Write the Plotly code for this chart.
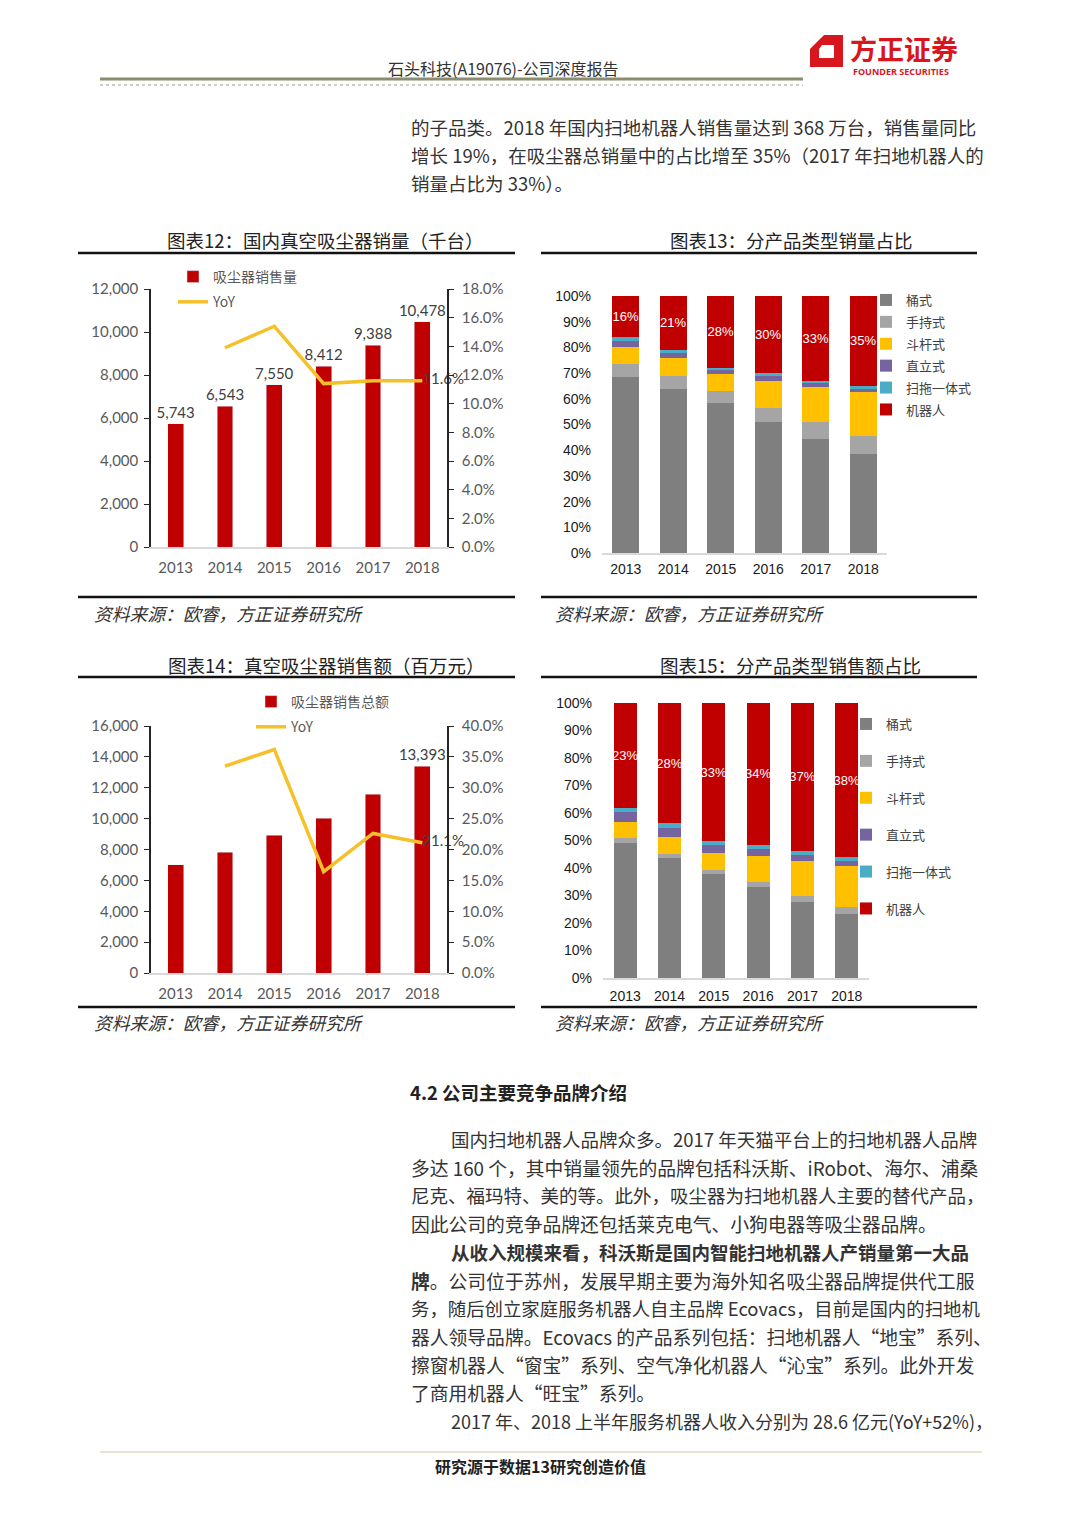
import plotly.graph_objects as go

W, H = 1080, 1527
OFF = 8  # page body margin of the browser


def px(x):
    return (x - OFF) / W


def py(y):
    return 1 - (y - OFF) / H


CJK = "Noto Sans CJK SC"
NUM12 = "Lato"
NUM13 = "Liberation Sans"

# ---------------- data ----------------
years = ["2013", "2014", "2015", "2016", "2017", "2018"]

# Chart 12: domestic vacuum cleaner volume (thousand units)
vol_units = [5743, 6543, 7550, 8412, 9388, 10478]
vol_yoy = [None, 0.139, 0.154, 0.114, 0.116, 0.116]

# Chart 14: vacuum cleaner sales value (million yuan)
val_sales = [7000, 7820, 8920, 10040, 11590, 13393]
val_yoy = [None, 0.335, 0.362, 0.164, 0.226, 0.211]

segment_names = ["桶式", "手持式", "斗杆式", "直立式", "扫拖一体式", "机器人"]
segment_colors = ["#7f7f7f", "#a5a5a5", "#ffc000", "#7664a0", "#4bacc6", "#c00000"]

# Chart 13: share of volume by product type (%)
vol_tong = [68.5, 64.0, 58.4, 51.0, 44.4, 38.4]
vol_shouchi = [5.0, 4.7, 4.6, 5.6, 6.4, 7.1]
vol_dougan = [6.5, 7.0, 6.5, 10.2, 13.7, 17.0]
vol_zhili = [2.5, 2.3, 1.6, 2.1, 1.8, 1.5]
vol_saotuo = [1.5, 1.0, 0.9, 1.1, 0.7, 1.0]
vol_robot = [16.0, 21.0, 28.0, 30.0, 33.0, 35.0]
vol_robot_labels = ["16%", "21%", "28%", "30%", "33%", "35%"]

# Chart 15: share of sales value by product type (%)
val_tong = [49.1, 43.8, 37.9, 33.0, 27.6, 23.3]
val_shouchi = [1.7, 1.4, 1.5, 2.0, 2.3, 2.6]
val_dougan = [6.0, 6.0, 5.9, 9.2, 12.5, 14.8]
val_zhili = [3.7, 3.3, 2.9, 2.8, 2.4, 2.0]
val_saotuo = [1.5, 1.7, 1.6, 1.5, 1.4, 1.3]
val_robot = [38.0, 43.8, 50.2, 51.5, 53.8, 56.0]
val_robot_labels = ["23%", "28%", "33%", "34%", "37%", "38%"]

RED = "#c00000"
GOLD = "#f4c12a"

fig = go.Figure()

# ---------------- chart 12 ----------------
fig.add_trace(go.Bar(
    x=years, y=vol_units, xaxis="x", yaxis="y", name="吸尘器销售量",
    marker_color=RED, width=0.32,
    text=[f"{v:,}" for v in vol_units], textposition="outside", constraintext="none",
    textfont=dict(family=NUM12, size=15, color="#404040"), cliponaxis=False,
    legend="legend", legendgroup="a1",
))
fig.add_trace(go.Scatter(
    x=years, y=vol_yoy, xaxis="x", yaxis="y2", name="YoY", mode="lines+text",
    line=dict(color=GOLD, width=3.5),
    text=[""] * 5 + [f"{vol_yoy[-1]*100:.1f}%"], textposition="middle right",
    textfont=dict(family=NUM12, size=15, color="#404040"), cliponaxis=False,
    legend="legend", legendgroup="a2",
))

# ---------------- chart 14 ----------------
fig.add_trace(go.Bar(
    x=years, y=val_sales, xaxis="x3", yaxis="y4", name="吸尘器销售总额",
    marker_color=RED, width=0.32,
    text=[""] * 5 + [f"{val_sales[-1]:,}"], textposition="outside", constraintext="none",
    textfont=dict(family=NUM12, size=15, color="#404040"), cliponaxis=False,
    legend="legend3", legendgroup="c1",
))
fig.add_trace(go.Scatter(
    x=years, y=val_yoy, xaxis="x3", yaxis="y5", name="YoY", mode="lines+text",
    line=dict(color=GOLD, width=3.5),
    text=[""] * 5 + [f"{val_yoy[-1]*100:.1f}%"], textposition="middle right",
    textfont=dict(family=NUM12, size=15, color="#404040"), cliponaxis=False,
    legend="legend3", legendgroup="c2",
))

# ---------------- chart 13 & 15 ----------------
vol_series = [vol_tong, vol_shouchi, vol_dougan, vol_zhili, vol_saotuo, vol_robot]
val_series = [val_tong, val_shouchi, val_dougan, val_zhili, val_saotuo, val_robot]

for i, (name, color, ys) in enumerate(zip(segment_names, segment_colors, vol_series)):
    is_robot = name == "机器人"
    fig.add_trace(go.Bar(
        x=years, y=ys, xaxis="x2", yaxis="y3", name=name, marker_color=color,
        marker_line_width=0, width=0.56,
        text=vol_robot_labels if is_robot else None,
        textposition="inside" if is_robot else "none", insidetextanchor="middle",
        textangle=0, constraintext="none",
        textfont=dict(family=NUM13, size=13, color="white"),
        legend="legend2", legendgroup=f"b{i}",
    ))

for i, (name, color, ys) in enumerate(zip(segment_names, segment_colors, val_series)):
    is_robot = name == "机器人"
    fig.add_trace(go.Bar(
        x=years, y=ys, xaxis="x4", yaxis="y6", name=name, marker_color=color,
        marker_line_width=0, width=0.52,
        text=val_robot_labels if is_robot else None,
        textposition="inside" if is_robot else "none", insidetextanchor="middle",
        textangle=0, constraintext="none",
        textfont=dict(family=NUM13, size=13, color="white"),
        legend="legend4", legendgroup=f"d{i}",
    ))

tick12 = dict(family=NUM12, size=15, color="#595959")
tick13 = dict(family=NUM13, size=14, color="#1a1a1a")

common_x = dict(type="category", range=[-0.5, 5.5], showgrid=False, ticks="",
                showline=True, linecolor="#d9d9d9", linewidth=1.5, zeroline=False)
left_y = dict(showgrid=False, zeroline=False, showline=True, linecolor="#262626",
              linewidth=1.5, ticks="outside", ticklen=5, tickcolor="#262626",
              tickfont=tick12, ticklabelstandoff=3)
right_y = dict(showgrid=False, zeroline=False, showline=True, linecolor="#262626",
               linewidth=1.5, ticks="outside", ticklen=5, tickcolor="#262626",
               tickfont=tick12, ticklabelstandoff=5, side="right", tickformat=".1%")
share_y = dict(range=[0, 100], dtick=10, ticksuffix="%", showgrid=False, zeroline=False,
               showline=False, tickfont=tick13, ticklabelstandoff=10)


def leg(x, y, size, color, gap):
    return dict(x=px(x), y=py(y), xanchor="left", yanchor="top", bgcolor="rgba(0,0,0,0)",
                font=dict(family=CJK, size=size, color=color), tracegroupgap=gap,
                traceorder="grouped", itemwidth=30)


layout = dict(
    width=W, height=H, margin=dict(l=0, r=0, t=0, b=0, autoexpand=False),
    paper_bgcolor="white", plot_bgcolor="rgba(0,0,0,0)",
    barmode="stack", font=dict(family=CJK, color="#333333"),
    xaxis=dict(domain=[px(151), px(447)], anchor="y", tickfont=tick12,
               ticklabelstandoff=6, **common_x),
    yaxis=dict(domain=[py(547), py(289)], anchor="x", range=[0, 12000], dtick=2000,
               tickformat=",", **left_y),
    yaxis2=dict(overlaying="y", anchor="x", range=[0, 0.18], dtick=0.02, **right_y),
    xaxis2=dict(domain=[px(602), px(887)], anchor="y3", tickfont=tick13,
                ticklabelstandoff=2, **common_x),
    yaxis3=dict(domain=[py(553), py(296)], anchor="x2", **share_y),
    xaxis3=dict(domain=[px(151), px(447)], anchor="y4", tickfont=tick12,
                ticklabelstandoff=6, **common_x),
    yaxis4=dict(domain=[py(973), py(726)], anchor="x3", range=[0, 16000], dtick=2000,
                tickformat=",", **left_y),
    yaxis5=dict(overlaying="y4", anchor="x3", range=[0, 0.40], dtick=0.05, **right_y),
    xaxis4=dict(domain=[px(603), px(869)], anchor="y6", tickfont=tick13,
                ticklabelstandoff=4, **common_x),
    yaxis6=dict(domain=[py(978), py(703)], anchor="x4", **share_y),
    legend=leg(173, 261, 14, "#595959", 4),
    legend2=leg(866, 285, 13, "#404040", 2),
    legend3=leg(251, 686, 14, "#595959", 4),
    legend4=leg(846, 709, 13, "#404040", 17),
)
fig.update_layout(**layout)

# ---------------- page decorations ----------------
shapes = []


def hline(y, x0, x1, color, width, dash="solid"):
    shapes.append(dict(type="line", xref="paper", yref="paper", x0=px(x0), x1=px(x1),
                       y0=py(y), y1=py(y), line=dict(color=color, width=width, dash=dash)))


hline(79, 100, 803, "#8c8c6e", 3)
hline(85, 100, 803, "#9a9a9a", 1, "dot")
for yy in (253, 677, 597, 1007):
    hline(yy, 78, 515, "#111111", 2.5)
    hline(yy, 541, 977, "#111111", 2.5)
hline(1452, 100, 982, "#d9c6a3", 1.2)

# logo mark
outer = [(824, 35), (843, 35), (843, 67), (810, 67), (810, 49)]
inner = [(822, 45), (834, 45), (834, 58), (819, 58), (819, 49)]


def pth(pts):
    return "M " + " L ".join(f"{px(x):.5f},{py(y):.5f}" for x, y in pts) + " Z"


shapes.append(dict(type="path", xref="paper", yref="paper", path=pth(outer) + " " + pth(inner),
                   fillcolor="#d7161e", line=dict(width=0), fillrule="evenodd"))
fig.update_layout(shapes=shapes)

ann = []


def text(x, y, s, size, color="#333333", anchor="left", family=CJK):
    ann.append(dict(x=px(x), y=py(y), xref="paper", yref="paper", text=s, showarrow=False,
                    xanchor=anchor, yanchor="middle",
                    font=dict(family=family, size=size, color=color)))


text(503, 68, "石头科技(A19076)-公司深度报告", 16, "#333333", "center")
text(848, 48, "<b>方正证券</b>", 27, "#d7161e", "left")
text(851, 71, "<b>FOUNDER SECURITIES</b>", 9, "#d7161e", "left", "Open Sans")

top_lines = [
    "的子品类。2018 年国内扫地机器人销售量达到 368 万台，销售量同比",
    "增长 19%，在吸尘器总销量中的占比增至 35%（2017 年扫地机器人的",
    "销量占比为 33%）。",
]
for i, s in enumerate(top_lines):
    text(409, 127 + 28 * i, s, 18.5, "#333333")

text(325, 240, "图表12：国内真空吸尘器销量（千台）", 18.5, "#222222", "center")
text(791, 240, "图表13：分产品类型销量占比", 18.5, "#222222", "center")
text(326, 665, "图表14：真空吸尘器销售额（百万元）", 18.5, "#222222", "center")
text(790, 665, "图表15：分产品类型销售额占比", 18.5, "#222222", "center")
for xx, yy in ((92, 613), (553, 613), (92, 1022), (553, 1022)):
    text(xx, yy, "<i>资料来源：欧睿，方正证券研究所</i>", 17.8, "#333333")

text(408, 1092, "<b>4.2 公司主要竞争品牌介绍</b>", 18.5, "#222222")

body = [
    (449, "国内扫地机器人品牌众多。2017 年天猫平台上的扫地机器人品牌", 18.5),
    (409, "多达 160 个，其中销量领先的品牌包括科沃斯、iRobot、海尔、浦桑", 18.8),
    (409, "尼克、福玛特、美的等。此外，吸尘器为扫地机器人主要的替代产品，", 18.5),
    (409, "因此公司的竞争品牌还包括莱克电气、小狗电器等吸尘器品牌。", 18.8),
    (449, "<b>从收入规模来看，科沃斯是国内智能扫地机器人产销量第一大品</b>", 18.5),
    (409, "<b>牌</b>。公司位于苏州，发展早期主要为海外知名吸尘器品牌提供代工服", 18.8),
    (409, "务，随后创立家庭服务机器人自主品牌 Ecovacs，目前是国内的扫地机", 18.4),
    (409, "器人领导品牌。Ecovacs 的产品系列包括：扫地机器人“地宝”系列、", 18.8),
    (409, "擦窗机器人“窗宝”系列、空气净化机器人“沁宝”系列。此外开发", 18.8),
    (409, "了商用机器人“旺宝”系列。", 18.8),
    (449, "2017 年、2018 上半年服务机器人收入分别为 28.6 亿元(YoY+52%)，", 18.0),
]
for i, (xx, s, fs) in enumerate(body):
    text(xx, 1139 + 28.2 * i, s, fs, "#333333")

text(540, 1466, "<b>研究源于数据13研究创造价值</b>", 16, "#222222", "center")

fig.update_layout(annotations=ann)

fig.write_html("out.html")
